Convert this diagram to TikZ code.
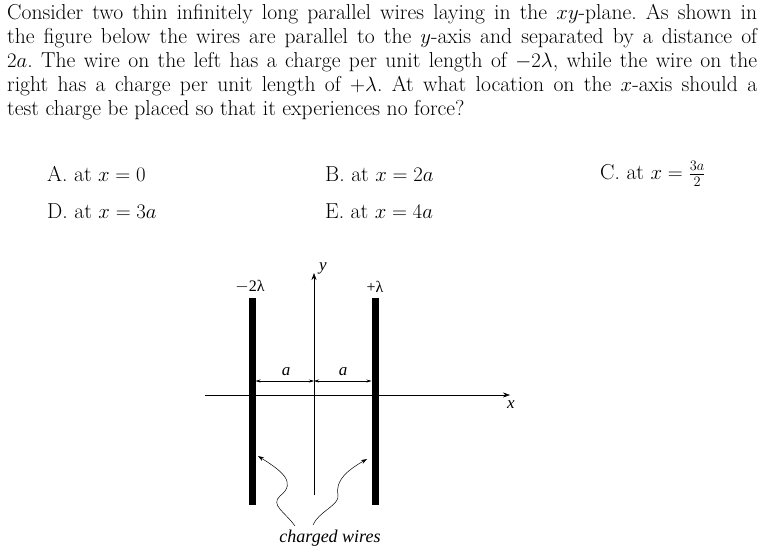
\documentclass[tikz,border=0pt]{standalone}
\usepackage{fontspec}
\usepackage{amsmath}
\newfontfamily\tms{Liberation Serif}
\usetikzlibrary{arrows.meta}
\begin{document}
\begin{tikzpicture}[x=1pt,y=-1pt,
  txt/.style={inner sep=0pt,anchor=west,font=\fontsize{21.6}{24}\selectfont\frenchspacing},
  lab/.style={inner sep=0pt,font=\tms\fontsize{16}{18}\selectfont},
  wire/.style={line width=7pt},
  ax/.style={line width=0.6pt,-{Stealth[length=7pt,width=5pt]}},
  dim/.style={line width=0.5pt,{Stealth[length=5pt,width=3pt]}-{Stealth[length=5pt,width=3pt]}},
  curl/.style={line width=0.5pt,-{Stealth[length=6pt,width=4pt]}}]
\useasboundingbox (0,0) rectangle (765,556);
\node[txt,anchor=north west,text width=750pt,align=justify] (para) at (7,4)
 {Consider two thin infinitely long parallel wires laying in the $xy$-plane. As shown in\linebreak the figure below the wires are parallel to the $y$-axis and separated by a distance of\linebreak $2a$. The wire on the left has a charge per unit length of $-2\lambda$, while the wire on the\linebreak right has a charge per unit length of $+\lambda$. At what location on the $x$-axis should a\linebreak test charge be placed so that it experiences no force?};
\node[txt] (A) at (47,174) {A. at $x=0$};
\node[txt] (B) at (325,174) {B. at $x=2a$};
\node[txt] (C) at (600,174) {C. at $x=\tfrac{3a}{2}$};
\node[txt] (D) at (47,211) {D. at $x=3a$};
\node[txt] (E) at (325,211) {E. at $x=4a$};
% axes
\coordinate (xs) at (205,395); \coordinate (xe) at (510,395);
\coordinate (ys) at (314,495); \coordinate (ye) at (314,273);
\draw[ax] (xs) -- (xe);
\draw[ax] (ys) -- (ye);
\node[lab,font=\tms\itshape\fontsize{17}{18}\selectfont] (xl) at (511,405) {x};
\node[lab,font=\tms\itshape\fontsize{17}{18}\selectfont] (yl) at (323,268) {y};
% wires
\coordinate (l1) at (252,298); \coordinate (l2) at (252,505);
\coordinate (r1) at (375,298); \coordinate (r2) at (375,505);
\draw[wire] (l1) -- (l2);
\draw[wire] (r1) -- (r2);
\node[lab] (ml) at (250,287) {$-$2λ};
\node[lab] (pl) at (375,287) {+λ};
% dims
\coordinate (d1) at (255.5,381); \coordinate (d2) at (314,381); \coordinate (d3) at (371.5,381);
\draw[dim] (d1) -- (d2);
\draw[dim] (d2) -- (d3);
\node[lab,font=\tms\itshape\fontsize{17}{18}\selectfont] (a1) at (286,372) {a};
\node[lab,font=\tms\itshape\fontsize{17}{18}\selectfont] (a2) at (343,372) {a};
% label
\node[lab,font=\tms\itshape\fontsize{18}{20}\selectfont] (cw) at (330,538) {charged wires};
\coordinate (c1) at (295,526); \coordinate (c1t) at (258,456);
\coordinate (c2) at (313,525); \coordinate (c2t) at (367,459);
\draw[curl] (c1) .. controls (285,512) and (270,505) .. (280,496) .. controls (298,482) and (280,470) .. (c1t);
\draw[curl] (c2) .. controls (318,512) and (340,505) .. (338,495) .. controls (335,480) and (348,470) .. (c2t);
\end{tikzpicture}
\end{document}
